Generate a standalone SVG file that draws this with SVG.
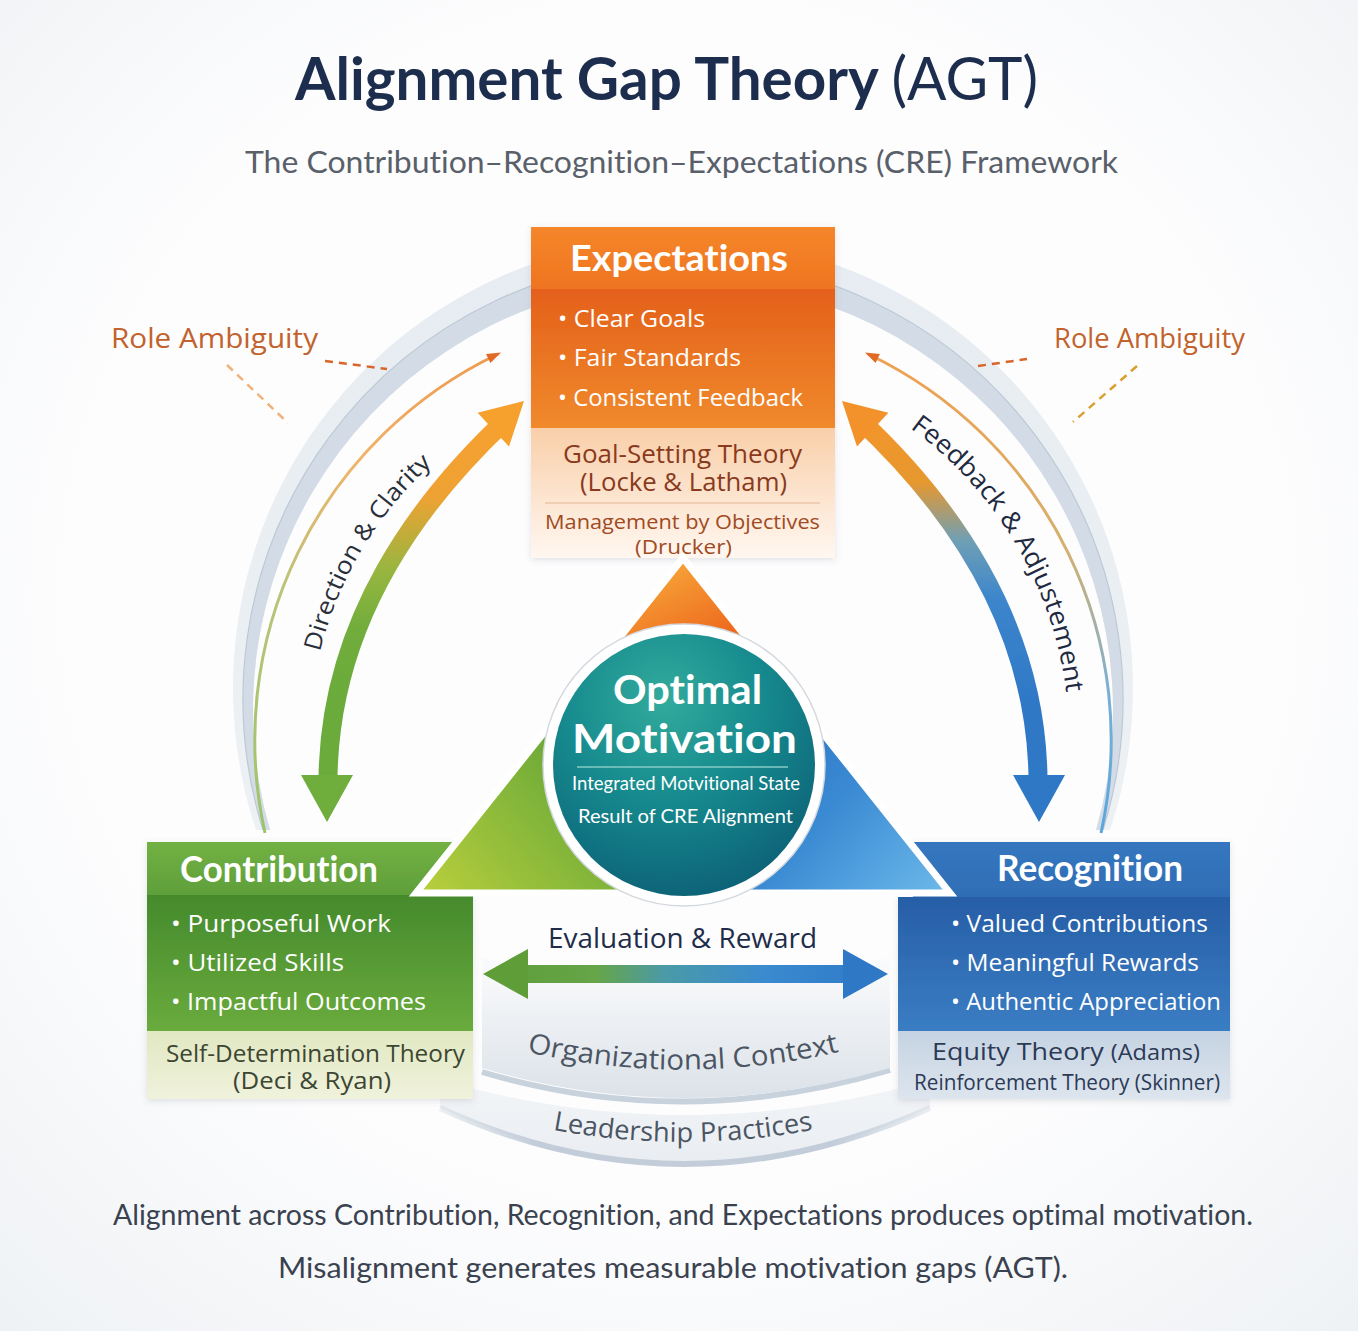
<svg xmlns="http://www.w3.org/2000/svg" width="1358" height="1331" viewBox="0 0 1358 1331">
<style>
text{font-variant-ligatures:none;font-feature-settings:"liga" 0,"clig" 0}
.op{font-family:"Open Sans","Noto Sans","Liberation Sans",sans-serif}
.la{font-family:Lato,"Open Sans","Liberation Sans",sans-serif}
.wb{fill:#ffffff;font-weight:700}
.bul{fill:#ffffff;font-size:23px}
</style>
<defs>
<radialGradient id="bg" cx="50%" cy="45%" r="75%"><stop offset="0.6" stop-color="#fdfdfe"/><stop offset="1" stop-color="#eef1f4"/></radialGradient>
<linearGradient id="titleLine" x1="0" x2="1"><stop offset="0" stop-color="#e1e4e8" stop-opacity="0"/><stop offset="0.15" stop-color="#e1e4e8"/><stop offset="0.85" stop-color="#e1e4e8"/><stop offset="1" stop-color="#e1e4e8" stop-opacity="0"/></linearGradient>
<linearGradient id="ringOuter" x1="0" y1="0" x2="0" y2="1"><stop offset="0" stop-color="#e6ecf1"/><stop offset="1" stop-color="#edf1f4"/></linearGradient>
<linearGradient id="leftThin" gradientUnits="userSpaceOnUse" x1="0" y1="833" x2="0" y2="354"><stop offset="0" stop-color="#9cc46a"/><stop offset="0.5" stop-color="#b9c47a"/><stop offset="0.78" stop-color="#efb46a"/><stop offset="1" stop-color="#ee9a50"/></linearGradient>
<linearGradient id="rightThin" gradientUnits="userSpaceOnUse" x1="0" y1="354" x2="0" y2="833"><stop offset="0" stop-color="#f0a050"/><stop offset="0.4" stop-color="#d5b06c"/><stop offset="0.7" stop-color="#7cb0d2"/><stop offset="1" stop-color="#5aa5dd"/></linearGradient>
<linearGradient id="leftThick" gradientUnits="userSpaceOnUse" x1="0" y1="410" x2="0" y2="700"><stop offset="0" stop-color="#f7a030"/><stop offset="0.3" stop-color="#eea233"/><stop offset="0.55" stop-color="#98b640"/><stop offset="0.75" stop-color="#72ad3c"/><stop offset="1" stop-color="#6aab3b"/></linearGradient>
<linearGradient id="rightThick" gradientUnits="userSpaceOnUse" x1="0" y1="410" x2="0" y2="700"><stop offset="0" stop-color="#f5952a"/><stop offset="0.25" stop-color="#e6982f"/><stop offset="0.45" stop-color="#6f9fb5"/><stop offset="0.65" stop-color="#3d86cc"/><stop offset="1" stop-color="#2f78c6"/></linearGradient>
<linearGradient id="evalG" gradientUnits="userSpaceOnUse" x1="483" y1="0" x2="888" y2="0"><stop offset="0" stop-color="#5e9d38"/><stop offset="0.28" stop-color="#66a548"/><stop offset="0.45" stop-color="#4a9aa8"/><stop offset="0.7" stop-color="#3a8ad0"/><stop offset="1" stop-color="#2f78c6"/></linearGradient>
<linearGradient id="orgBand" x1="0" y1="0" x2="0" y2="1"><stop offset="0" stop-color="#f8f9fb" stop-opacity="0.6"/><stop offset="0.4" stop-color="#eef1f4"/><stop offset="1" stop-color="#dce2e9"/></linearGradient>
<linearGradient id="leadBand" x1="0" y1="0" x2="0" y2="1"><stop offset="0" stop-color="#f3f5f8"/><stop offset="1" stop-color="#e9edf1"/></linearGradient>
<linearGradient id="edgeFade" gradientUnits="userSpaceOnUse" x1="440" y1="0" x2="930" y2="0"><stop offset="0" stop-color="#c2cdd9" stop-opacity="0.3"/><stop offset="0.2" stop-color="#c2cdd9"/><stop offset="0.8" stop-color="#c2cdd9"/><stop offset="1" stop-color="#c2cdd9" stop-opacity="0.3"/></linearGradient>
<linearGradient id="expHead" x1="0" y1="0" x2="0" y2="1"><stop offset="0" stop-color="#f5862a"/><stop offset="1" stop-color="#ef7420"/></linearGradient>
<linearGradient id="expBody" x1="0" y1="0" x2="0" y2="1"><stop offset="0" stop-color="#e4601a"/><stop offset="1" stop-color="#f08a2c"/></linearGradient>
<linearGradient id="expLow" x1="0" y1="0" x2="0" y2="1"><stop offset="0" stop-color="#f9cfa9"/><stop offset="0.5" stop-color="#fce3cd"/><stop offset="1" stop-color="#fff7f0"/></linearGradient>
<linearGradient id="conHead" x1="0" y1="0" x2="0" y2="1"><stop offset="0" stop-color="#72b143"/><stop offset="1" stop-color="#5f9f3a"/></linearGradient>
<linearGradient id="conBody" x1="0" y1="0" x2="0" y2="1"><stop offset="0" stop-color="#458a2c"/><stop offset="1" stop-color="#6aab3d"/></linearGradient>
<linearGradient id="conLow" x1="0" y1="0" x2="0" y2="1"><stop offset="0" stop-color="#e1e8c2"/><stop offset="1" stop-color="#f0f2dc"/></linearGradient>
<linearGradient id="recHead" x1="0" y1="0" x2="0" y2="1"><stop offset="0" stop-color="#3577bf"/><stop offset="1" stop-color="#2f6db5"/></linearGradient>
<linearGradient id="recBody" x1="0" y1="0" x2="0" y2="1"><stop offset="0" stop-color="#275ea6"/><stop offset="1" stop-color="#3a7dc4"/></linearGradient>
<linearGradient id="recLow" x1="0" y1="0" x2="0" y2="1"><stop offset="0" stop-color="#c5d3e2"/><stop offset="1" stop-color="#dde5ee"/></linearGradient>
<linearGradient id="triOrange" gradientUnits="userSpaceOnUse" x1="660" y1="560" x2="700" y2="645"><stop offset="0" stop-color="#f7a83a"/><stop offset="1" stop-color="#ee6a1e"/></linearGradient>
<linearGradient id="triGreen" gradientUnits="userSpaceOnUse" x1="430" y1="890" x2="640" y2="700"><stop offset="0" stop-color="#b6cd3c"/><stop offset="0.45" stop-color="#84b63a"/><stop offset="1" stop-color="#4c9534"/></linearGradient>
<linearGradient id="triBlue" gradientUnits="userSpaceOnUse" x1="945" y1="890" x2="740" y2="700"><stop offset="0" stop-color="#6cb8ea"/><stop offset="0.5" stop-color="#3a8ad3"/><stop offset="1" stop-color="#2a6cc0"/></linearGradient>
<radialGradient id="teal" cx="0.42" cy="0.25" r="0.85"><stop offset="0" stop-color="#33ab9c"/><stop offset="0.45" stop-color="#168a8e"/><stop offset="1" stop-color="#0b5a72"/></radialGradient>
<clipPath id="triClip"><polygon points="683,558 416,893 950,893"/></clipPath>
<filter id="sh" x="-10%" y="-10%" width="120%" height="125%"><feDropShadow dx="0" dy="2" stdDeviation="3" flood-color="#5a6672" flood-opacity="0.18"/></filter>
<path id="tpDir" d="M 320,652 A 373 373 0 0 1 497,417"/>
<path id="tpFb" d="M 910,428 A 386 386 0 0 1 1069,727"/>
<path id="tpOrg" d="M 515,1049 A 697 697 0 0 0 851,1049"/>
<path id="tpLead" d="M 530,1125 A 700 700 0 0 0 836,1125"/>
</defs>

<rect x="0" y="0" width="1358" height="1331" fill="url(#bg)"/>

<g id="title">
<text class="la" x="295" y="100" font-size="60" fill="#1c2d4e" textLength="743" lengthAdjust="spacingAndGlyphs"><tspan font-weight="700">Alignment Gap Theory </tspan><tspan font-weight="400">(AGT)</tspan></text>
<line x1="200" y1="132" x2="1170" y2="132" stroke="url(#titleLine)" stroke-width="2"/>
<text class="la" x="245" y="173" font-size="30" fill="#59606a" textLength="873" lengthAdjust="spacingAndGlyphs">The Contribution–Recognition–Expectations (CRE) Framework</text>
</g>

<g id="context-ring">
<path d="M 256,830 A 450 450 0 1 1 1110,830 L 1096,830 A 430 430 0 1 0 270,830 Z" fill="url(#ringOuter)"/>
<path d="M 263,830 A 440 440 0 1 1 1103,830 L 1096,830 A 430 430 0 1 0 270,830 Z" fill="#d3dce6"/>
<path d="M 263,830 A 440 440 0 1 1 1103,830" fill="none" stroke="#bcc9d5" stroke-width="1.2"/>
</g>

<g id="context-bands">
<path d="M 440,1080 Q 683,1150 930,1080 L 930,1108 Q 683,1220 440,1108 Z" fill="url(#leadBand)"/>
<path d="M 440,1108 Q 683,1220 930,1108" fill="none" stroke="url(#edgeFade)" stroke-width="6"/>
<path d="M 482,1072 Q 683,1132 890,1070" fill="none" stroke="#c8d2dd" stroke-width="6"/>
<path d="M 482,958 Q 683,1000 890,958 L 890,1068 Q 683,1128 482,1068 Z" fill="url(#orgBand)"/>
<text class="op" font-size="28" fill="#4b5563"><textPath href="#tpOrg" startOffset="50%" text-anchor="middle" textLength="315" lengthAdjust="spacingAndGlyphs">Organizational Context</textPath></text>
<text class="op" font-size="27" fill="#4b5563"><textPath href="#tpLead" startOffset="50%" text-anchor="middle" textLength="262" lengthAdjust="spacingAndGlyphs">Leadership Practices</textPath></text>
</g>

<g id="connectors">
<path d="M 265,833 A 428 428 0 0 1 498,354" fill="none" stroke="url(#leftThin)" stroke-width="3"/>
<polygon points="501,352.5 490.4,363.1 486.1,354.1" fill="#e06a26"/>
<path d="M 1101,833 A 428 428 0 0 0 868,354" fill="none" stroke="url(#rightThin)" stroke-width="3"/>
<polygon points="865,352.5 875.6,363.1 879.9,354.1" fill="#e06a26"/>

<path d="M 508,418 C 420,500 330,620 328,778" fill="none" stroke="url(#leftThick)" stroke-width="19"/>
<polygon points="524,401 509,446.4 477.6,412.8" fill="#f6a02e"/>
<polygon points="327,822 301,775 353,775" fill="#6fae3c"/>
<path d="M 858,418 C 946,500 1036,620 1038,778" fill="none" stroke="url(#rightThick)" stroke-width="19"/>
<polygon points="842,401 857,446.4 888.4,412.8" fill="#f3912a"/>
<polygon points="1039,822 1013,775 1065,775" fill="#2f78c6"/>

<text class="op" font-size="24" fill="#2a2f3a"><textPath href="#tpDir" textLength="222" lengthAdjust="spacingAndGlyphs">Direction &amp; Clarity</textPath></text>
<text class="op" font-size="26" fill="#1f2a40"><textPath href="#tpFb" textLength="316" lengthAdjust="spacingAndGlyphs">Feedback &amp; Adjustement</textPath></text>

<rect x="522" y="965" width="324" height="18" fill="url(#evalG)"/>
<polygon points="483,974 528,949 528,999" fill="#5e9d38"/>
<polygon points="888,974 843,949 843,999" fill="#2f78c6"/>
<text class="op" x="548" y="948" font-size="27" fill="#1f2d4a" textLength="269" lengthAdjust="spacingAndGlyphs">Evaluation &amp; Reward</text>
</g>

<g id="role-ambiguity">
<text class="op" x="111" y="348" font-size="28" fill="#c2622c" textLength="207" lengthAdjust="spacingAndGlyphs">Role Ambiguity</text>
<line x1="325" y1="361" x2="387" y2="369" stroke="#d9652a" stroke-width="2.5" stroke-dasharray="8 6"/>
<line x1="227" y1="365" x2="288" y2="423" stroke="#f0b27a" stroke-width="2.5" stroke-dasharray="8 6"/>
<text class="op" x="1054" y="348" font-size="27" fill="#c2622c" textLength="191" lengthAdjust="spacingAndGlyphs">Role Ambiguity</text>
<line x1="978" y1="366" x2="1027" y2="359" stroke="#d9652a" stroke-width="2.5" stroke-dasharray="8 6"/>
<line x1="1137" y1="366" x2="1073" y2="422" stroke="#d9a030" stroke-width="2.5" stroke-dasharray="8 6"/>
</g>

<g id="node-expectations">
<g filter="url(#sh)">
<rect x="531" y="227" width="304" height="63" fill="url(#expHead)"/>
<rect x="531" y="289" width="304" height="139" fill="url(#expBody)"/>
<rect x="531" y="428" width="304" height="130" fill="url(#expLow)"/>
</g>
<text class="la wb" x="570" y="271" font-size="37" textLength="218" lengthAdjust="spacingAndGlyphs">Expectations</text>
<text class="op bul" x="558" y="327" textLength="147" lengthAdjust="spacingAndGlyphs">• Clear Goals</text>
<text class="op bul" x="558" y="366" textLength="183" lengthAdjust="spacingAndGlyphs">• Fair Standards</text>
<text class="op bul" x="558" y="406" textLength="245" lengthAdjust="spacingAndGlyphs">• Consistent Feedback</text>
<text class="op" x="563" y="463" font-size="25" fill="#8a3a1c" textLength="239" lengthAdjust="spacingAndGlyphs">Goal-Setting Theory</text>
<text class="op" x="580" y="491" font-size="25" fill="#8a3a1c" textLength="207" lengthAdjust="spacingAndGlyphs">(Locke &amp; Latham)</text>
<line x1="545" y1="503" x2="820" y2="503" stroke="#e2b696" stroke-width="1.2"/>
<text class="op" x="545" y="529" font-size="20" fill="#a04a22" textLength="275" lengthAdjust="spacingAndGlyphs">Management by Objectives</text>
<text class="op" x="635" y="554" font-size="20" fill="#a04a22" textLength="97" lengthAdjust="spacingAndGlyphs">(Drucker)</text>
</g>

<g id="node-contribution">
<g filter="url(#sh)">
<polygon points="147,842 452,842 452,895 147,895" fill="url(#conHead)"/>
<rect x="147" y="895" width="326" height="136" fill="url(#conBody)"/>
<rect x="147" y="1031" width="326" height="68" fill="url(#conLow)"/>
</g>
<text class="la wb" x="180" y="882" font-size="36" textLength="198" lengthAdjust="spacingAndGlyphs">Contribution</text>
<text class="op bul" x="171" y="932" font-size="24" textLength="220" lengthAdjust="spacingAndGlyphs">• Purposeful Work</text>
<text class="op bul" x="171" y="971" font-size="24" textLength="173" lengthAdjust="spacingAndGlyphs">• Utilized Skills</text>
<text class="op bul" x="171" y="1010" font-size="24" textLength="255" lengthAdjust="spacingAndGlyphs">• Impactful Outcomes</text>
<text class="op" x="166" y="1062" font-size="23" fill="#3c4632" textLength="299" lengthAdjust="spacingAndGlyphs">Self-Determination Theory</text>
<text class="op" x="233" y="1089" font-size="23" fill="#3c4632" textLength="158" lengthAdjust="spacingAndGlyphs">(Deci &amp; Ryan)</text>
</g>

<g id="node-recognition">
<g filter="url(#sh)">
<polygon points="913,842 1230,842 1230,897 913,897" fill="url(#recHead)"/>
<rect x="898" y="897" width="332" height="134" fill="url(#recBody)"/>
<rect x="898" y="1031" width="332" height="68" fill="url(#recLow)"/>
</g>
<text class="la wb" x="997" y="881" font-size="36" textLength="186" lengthAdjust="spacingAndGlyphs">Recognition</text>
<text class="op bul" x="951" y="932" font-size="24" textLength="257" lengthAdjust="spacingAndGlyphs">• Valued Contributions</text>
<text class="op bul" x="951" y="971" font-size="24" textLength="248" lengthAdjust="spacingAndGlyphs">• Meaningful Rewards</text>
<text class="op bul" x="951" y="1010" font-size="24" textLength="270" lengthAdjust="spacingAndGlyphs">• Authentic Appreciation</text>
<text class="op" x="932" y="1060" font-size="24" fill="#2c3a56" textLength="268" lengthAdjust="spacingAndGlyphs">Equity Theory <tspan font-size="21">(Adams)</tspan></text>
<text class="op" x="914" y="1090" font-size="21" fill="#2c3a56" textLength="306" lengthAdjust="spacingAndGlyphs">Reinforcement Theory (Skinner)</text>
</g>

<g id="node-optimal-motivation">
<g clip-path="url(#triClip)">
<rect x="400" y="640" width="283" height="260" fill="url(#triGreen)"/>
<rect x="683" y="640" width="280" height="260" fill="url(#triBlue)"/>
<rect x="400" y="540" width="560" height="102" fill="url(#triOrange)"/>
</g>
<polygon points="683,558 416,893 950,893" fill="none" stroke="#ffffff" stroke-width="7" stroke-linejoin="miter"/>
<circle cx="684" cy="765" r="141" fill="#ffffff" stroke="#d3d9df" stroke-width="1.5"/>
<circle cx="684" cy="765" r="131" fill="url(#teal)"/>
<text class="la wb" x="613" y="704" font-size="40" textLength="149" lengthAdjust="spacingAndGlyphs">Optimal</text>
<text class="la wb" x="572" y="753" font-size="40" textLength="225" lengthAdjust="spacingAndGlyphs">Motivation</text>
<line x1="577" y1="767" x2="788" y2="767" stroke="#86cbc6" stroke-width="1.3"/>
<text class="la" x="572" y="790" font-size="19" fill="#ffffff" textLength="228" lengthAdjust="spacingAndGlyphs">Integrated Motvitional State</text>
<text class="la" x="578" y="823" font-size="20" fill="#ffffff" textLength="215" lengthAdjust="spacingAndGlyphs">Result of CRE Alignment</text>
</g>

<g id="footer">
<text class="la" x="113" y="1225" font-size="28" fill="#3a4250" textLength="1140" lengthAdjust="spacingAndGlyphs">Alignment across Contribution, Recognition, and Expectations produces optimal motivation.</text>
<text class="la" x="278" y="1278" font-size="28" fill="#3a4250" textLength="790" lengthAdjust="spacingAndGlyphs">Misalignment generates measurable motivation gaps (AGT).</text>
</g>
</svg>
